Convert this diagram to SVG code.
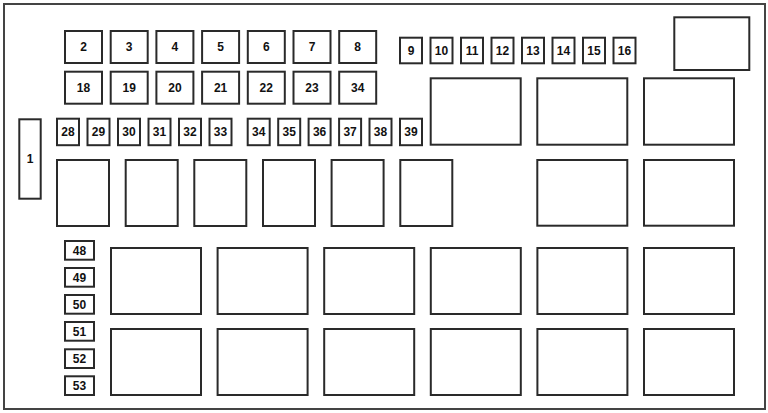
<svg xmlns="http://www.w3.org/2000/svg" width="768" height="413" viewBox="0 0 768 413">
<style>
rect{fill:#fff;stroke:#2a2a2a;stroke-width:2}
text{font-family:"Liberation Sans",Arial,sans-serif;font-weight:bold;font-size:12px;fill:#111;text-anchor:middle;dominant-baseline:central}
</style>
<rect id="frame" x="4" y="4" width="761" height="405" style="stroke:#444"/>
<g id="f1"><rect x="19.3" y="119.3" width="21.4" height="79.4"/><text x="30" y="159">1</text></g>
<g id="f2"><rect x="65" y="31" width="37" height="32"/><text x="83.5" y="47">2</text></g>
<g id="f3"><rect x="110.7" y="31" width="37" height="32"/><text x="129.2" y="47">3</text></g>
<g id="f4"><rect x="156.4" y="31" width="37" height="32"/><text x="174.9" y="47">4</text></g>
<g id="f5"><rect x="202.1" y="31" width="37" height="32"/><text x="220.6" y="47">5</text></g>
<g id="f6"><rect x="247.8" y="31" width="37" height="32"/><text x="266.3" y="47">6</text></g>
<g id="f7"><rect x="293.5" y="31" width="37" height="32"/><text x="312" y="47">7</text></g>
<g id="f8"><rect x="339.2" y="31" width="37" height="32"/><text x="357.7" y="47">8</text></g>
<g id="f18"><rect x="65" y="71.7" width="37" height="32"/><text x="83.5" y="88">18</text></g>
<g id="f19"><rect x="110.7" y="71.7" width="37" height="32"/><text x="129.2" y="88">19</text></g>
<g id="f20"><rect x="156.4" y="71.7" width="37" height="32"/><text x="174.9" y="88">20</text></g>
<g id="f21"><rect x="202.1" y="71.7" width="37" height="32"/><text x="220.6" y="88">21</text></g>
<g id="f22"><rect x="247.8" y="71.7" width="37" height="32"/><text x="266.3" y="88">22</text></g>
<g id="f23"><rect x="293.5" y="71.7" width="37" height="32"/><text x="312" y="88">23</text></g>
<g id="f34a"><rect x="339.2" y="71.7" width="37" height="32"/><text x="357.7" y="88">34</text></g>
<g id="f9"><rect x="400" y="37.7" width="22" height="25.6"/><text x="411" y="50.5">9</text></g>
<g id="f10"><rect x="430.5" y="37.7" width="22" height="25.6"/><text x="441.5" y="50.5">10</text></g>
<g id="f11"><rect x="461" y="37.7" width="22" height="25.6"/><text x="472" y="50.5">11</text></g>
<g id="f12"><rect x="491.5" y="37.7" width="22" height="25.6"/><text x="502.5" y="50.5">12</text></g>
<g id="f13"><rect x="522" y="37.7" width="22" height="25.6"/><text x="533" y="50.5">13</text></g>
<g id="f14"><rect x="552.5" y="37.7" width="22" height="25.6"/><text x="563.5" y="50.5">14</text></g>
<g id="f15"><rect x="583" y="37.7" width="22" height="25.6"/><text x="594" y="50.5">15</text></g>
<g id="f16"><rect x="613.5" y="37.7" width="22" height="25.6"/><text x="624.5" y="50.5">16</text></g>
<g id="box-tr"><rect x="674.3" y="17.3" width="75" height="52.7"/></g>
<g id="f28"><rect x="57" y="118.7" width="22" height="26.5"/><text x="68" y="132">28</text></g>
<g id="f29"><rect x="87.5" y="118.7" width="22" height="26.5"/><text x="98.5" y="132">29</text></g>
<g id="f30"><rect x="118" y="118.7" width="22" height="26.5"/><text x="129" y="132">30</text></g>
<g id="f31"><rect x="148.5" y="118.7" width="22" height="26.5"/><text x="159.5" y="132">31</text></g>
<g id="f32"><rect x="179" y="118.7" width="22" height="26.5"/><text x="190" y="132">32</text></g>
<g id="f33"><rect x="209.5" y="118.7" width="22" height="26.5"/><text x="220.5" y="132">33</text></g>
<g id="f34"><rect x="247.7" y="118.7" width="22" height="26.5"/><text x="258.7" y="132">34</text></g>
<g id="f35"><rect x="278.2" y="118.7" width="22" height="26.5"/><text x="289.2" y="132">35</text></g>
<g id="f36"><rect x="308.6" y="118.7" width="22" height="26.5"/><text x="319.6" y="132">36</text></g>
<g id="f37"><rect x="339.1" y="118.7" width="22" height="26.5"/><text x="350.1" y="132">37</text></g>
<g id="f38"><rect x="369.5" y="118.7" width="22" height="26.5"/><text x="380.5" y="132">38</text></g>
<g id="f39"><rect x="400" y="118.7" width="22" height="26.5"/><text x="411" y="132">39</text></g>
<g id="r-a1"><rect x="430.7" y="78.3" width="90" height="66.4"/></g>
<g id="r-a2"><rect x="537.3" y="78.3" width="90" height="66.4"/></g>
<g id="r-a3"><rect x="644" y="78.3" width="90" height="66.4"/></g>
<g id="r-b1"><rect x="57" y="160" width="52" height="66"/></g>
<g id="r-b2"><rect x="125.7" y="160" width="52" height="66"/></g>
<g id="r-b3"><rect x="194.3" y="160" width="52" height="66"/></g>
<g id="r-b4"><rect x="263" y="160" width="52" height="66"/></g>
<g id="r-b5"><rect x="331.6" y="160" width="52" height="66"/></g>
<g id="r-b6"><rect x="400.3" y="160" width="52" height="66"/></g>
<g id="r-b7"><rect x="537.3" y="160" width="90" height="65.7"/></g>
<g id="r-b8"><rect x="644" y="160" width="90" height="65.7"/></g>
<g id="r-c1"><rect x="111" y="248" width="90" height="66"/></g>
<g id="r-c2"><rect x="217.6" y="248" width="90" height="66"/></g>
<g id="r-c3"><rect x="324.2" y="248" width="90" height="66"/></g>
<g id="r-c4"><rect x="430.8" y="248" width="90" height="66"/></g>
<g id="r-c5"><rect x="537.4" y="248" width="90" height="66"/></g>
<g id="r-c6"><rect x="644" y="248" width="90" height="66"/></g>
<g id="r-d1"><rect x="111" y="329" width="90" height="66"/></g>
<g id="r-d2"><rect x="217.6" y="329" width="90" height="66"/></g>
<g id="r-d3"><rect x="324.2" y="329" width="90" height="66"/></g>
<g id="r-d4"><rect x="430.8" y="329" width="90" height="66"/></g>
<g id="r-d5"><rect x="537.4" y="329" width="90" height="66"/></g>
<g id="r-d6"><rect x="644" y="329" width="90" height="66"/></g>
<g id="f48"><rect x="65" y="241" width="29" height="18.7"/><text x="79.5" y="250.5">48</text></g>
<g id="f49"><rect x="65" y="268" width="29" height="18.7"/><text x="79.5" y="277.5">49</text></g>
<g id="f50"><rect x="65" y="295" width="29" height="18.7"/><text x="79.5" y="304.5">50</text></g>
<g id="f51"><rect x="65" y="322" width="29" height="18.7"/><text x="79.5" y="331.5">51</text></g>
<g id="f52"><rect x="65" y="349.3" width="29" height="18.7"/><text x="79.5" y="358.8">52</text></g>
<g id="f53"><rect x="65" y="376.3" width="29" height="18.7"/><text x="79.5" y="385.8">53</text></g>
<g id="connectors"></g>
</svg>
